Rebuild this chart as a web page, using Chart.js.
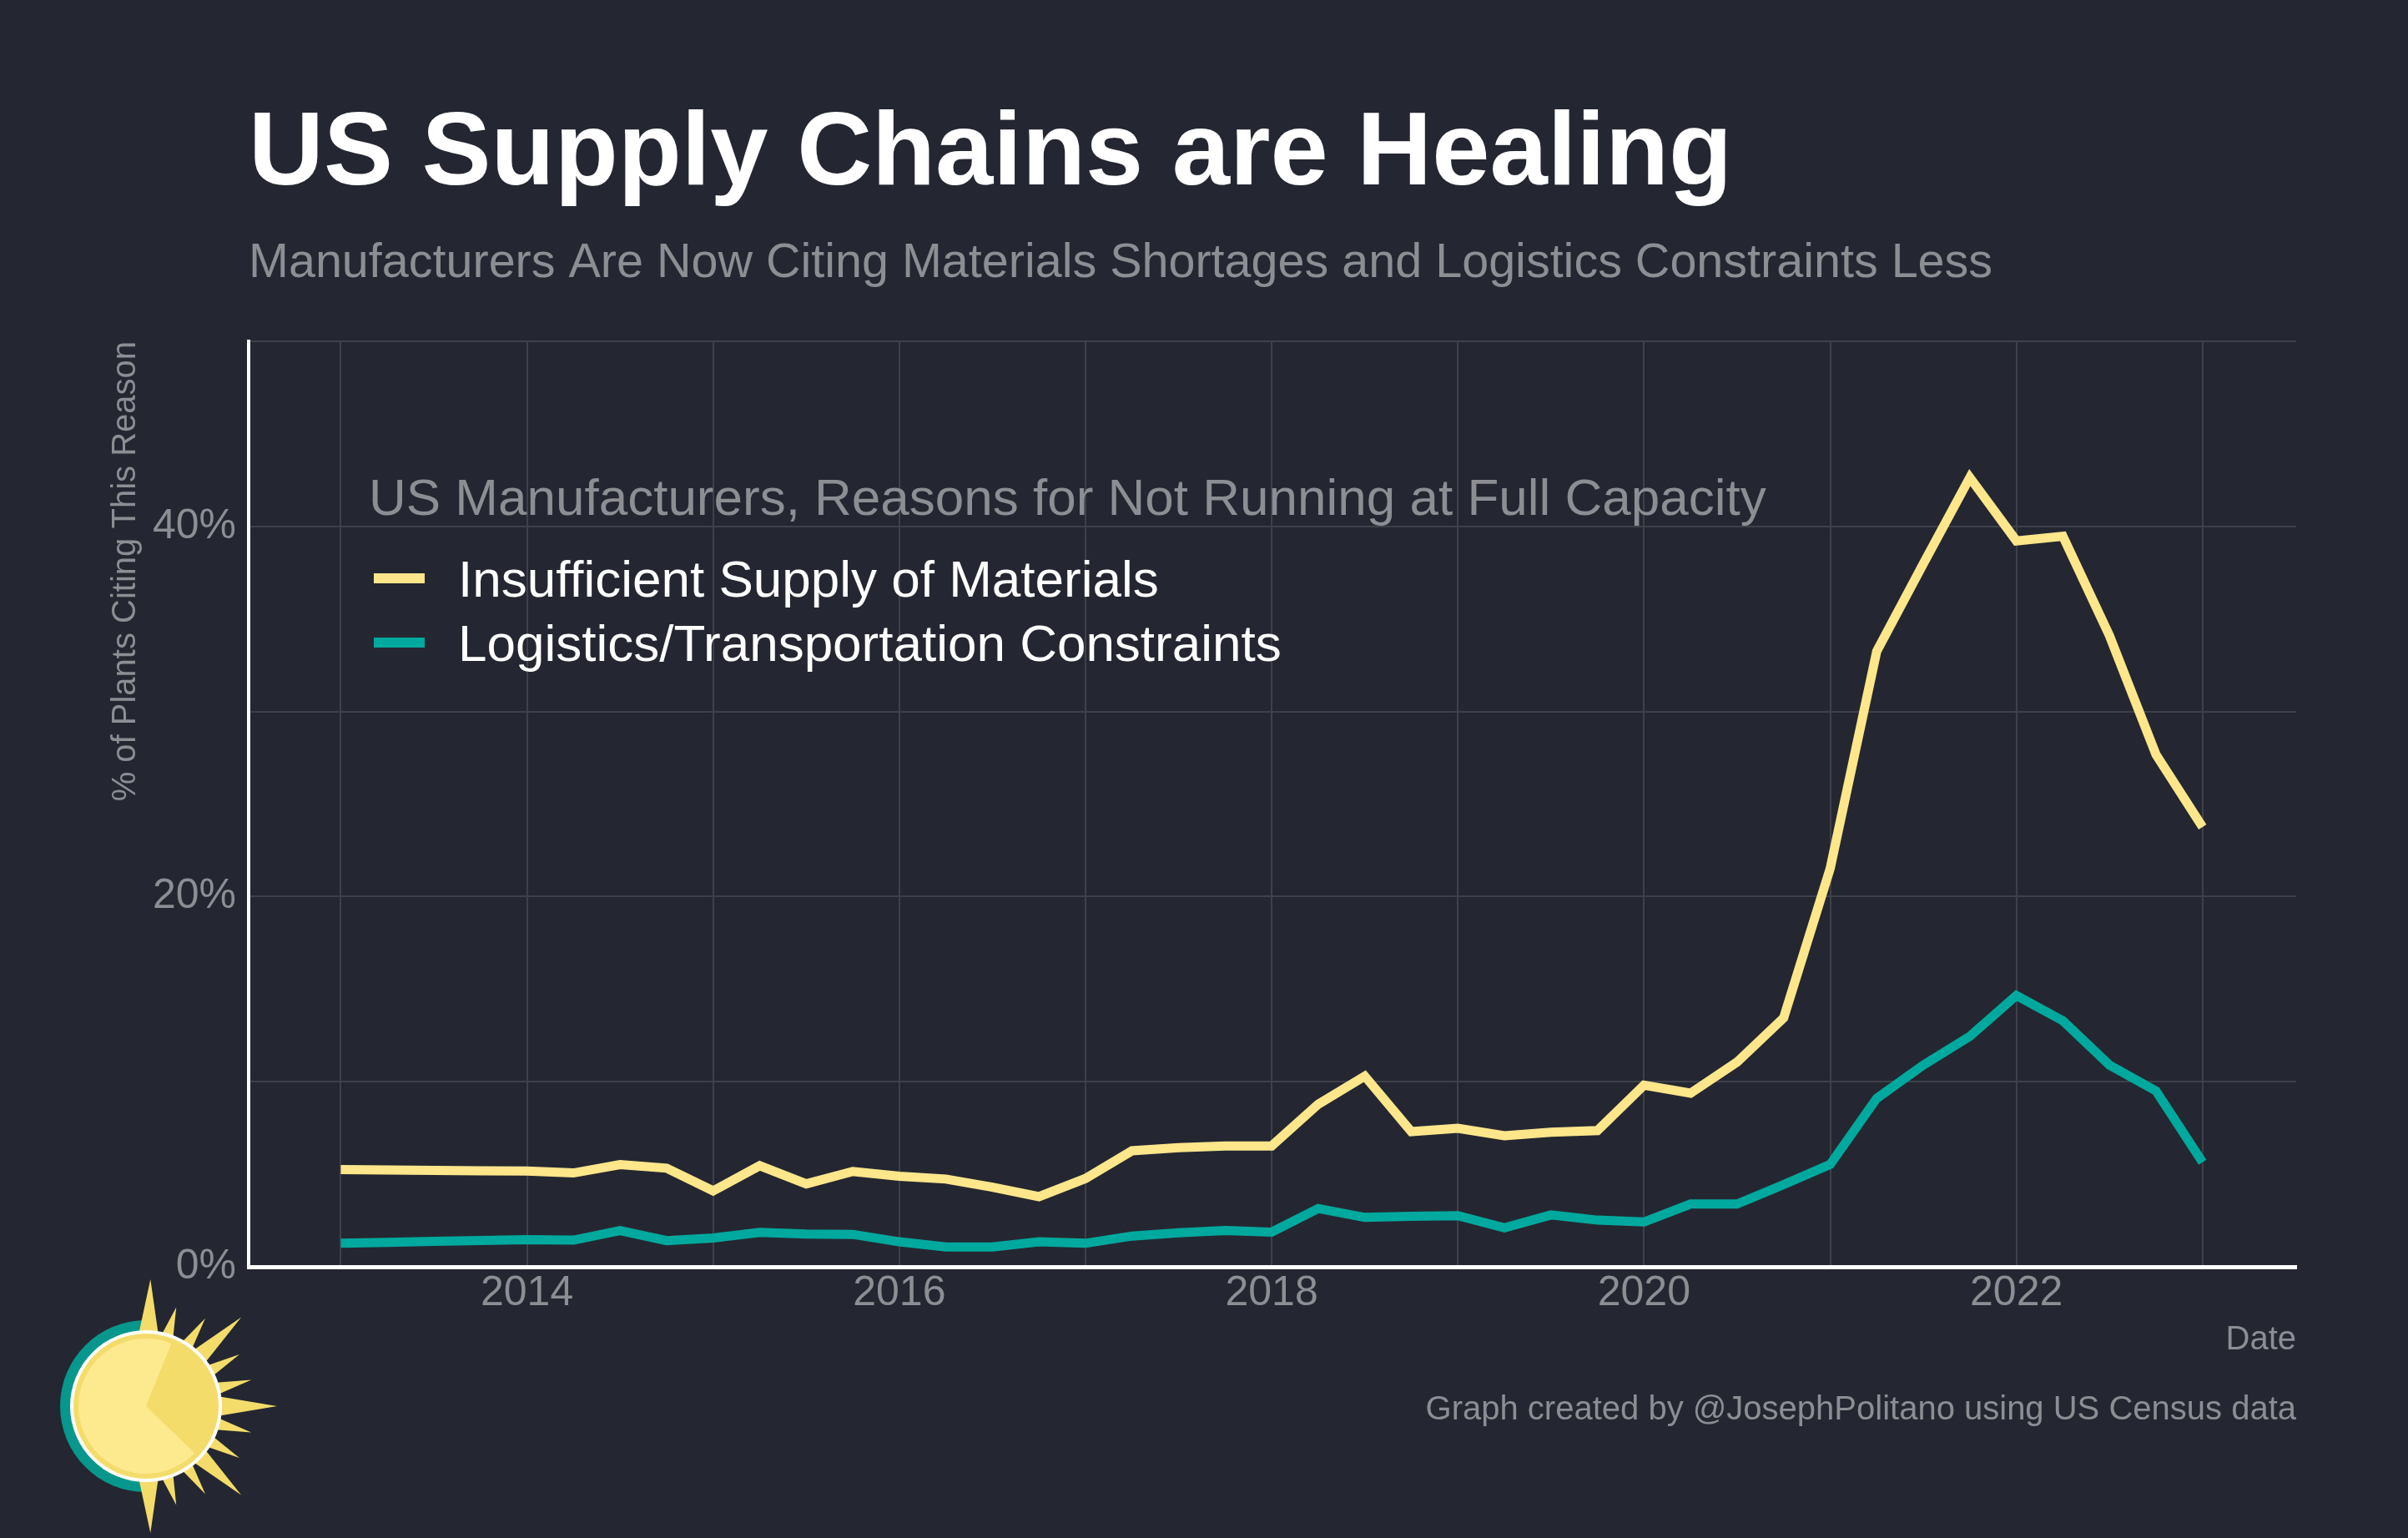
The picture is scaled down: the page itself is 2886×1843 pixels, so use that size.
<!DOCTYPE html>
<html>
<head>
<meta charset="utf-8">
<title>US Supply Chains are Healing</title>
<script src="https://cdn.jsdelivr.net/npm/chart.js@4.4.0/dist/chart.umd.min.js"></script>
<style>
    html, body { margin: 0; padding: 0; background: #242731; }
    #wrap { width: 2886px; height: 1843px; }
</style>
</head>
<body>
<div id="wrap"><canvas id="supplyChart" width="2886" height="1843"></canvas></div>
<script>
// quarterly observations, 2013 Q1 .. 2023 Q1 (decimal years)
var quarters = [
    2013.00, 2013.25, 2013.50, 2013.75,
    2014.00, 2014.25, 2014.50, 2014.75,
    2015.00, 2015.25, 2015.50, 2015.75,
    2016.00, 2016.25, 2016.50, 2016.75,
    2017.00, 2017.25, 2017.50, 2017.75,
    2018.00, 2018.25, 2018.50, 2018.75,
    2019.00, 2019.25, 2019.50, 2019.75,
    2020.00, 2020.25, 2020.50, 2020.75,
    2021.00, 2021.25, 2021.50, 2021.75,
    2022.00, 2022.25, 2022.50, 2022.75,
    2023.00
];

// % of plants citing "Insufficient Supply of Materials"
var materials = [
    5.25, 5.23, 5.21, 5.19,
    5.17, 5.07, 5.52, 5.33,
    4.10, 5.46, 4.48, 5.15,
    4.89, 4.74, 4.30, 3.79,
    4.77, 6.27, 6.44, 6.53,
    6.53, 8.78, 10.3, 7.30,
    7.48, 7.08, 7.27, 7.36,
    9.81, 9.38, 11.06, 13.45,
    21.52, 33.26, 37.98, 42.64,
    39.22, 39.47, 34.10, 27.67,
    23.76
];

// % of plants citing "Logistics/Transportation Constraints"
var logistics = [
    1.27, 1.32, 1.37, 1.42,
    1.47, 1.44, 1.96, 1.41,
    1.56, 1.86, 1.77, 1.75,
    1.35, 1.07, 1.07, 1.35,
    1.27, 1.66, 1.84, 1.96,
    1.87, 3.15, 2.67, 2.73,
    2.76, 2.11, 2.80, 2.52,
    2.42, 3.39, 3.39, 4.44,
    5.53, 9.10, 10.90, 12.45,
    14.66, 13.29, 10.90, 9.50,
    5.65
];

var seriesNames = ['Insufficient Supply of Materials', 'Logistics/Transportation Constraints'];
var seriesColors = ['#fee68b', '#00a99d'];

var yearTicks = [2013, 2014, 2015, 2016, 2017, 2018, 2019, 2020, 2021, 2022, 2023];
var yearLabels = ['2014', '2016', '2018', '2020', '2022'];
var pctTicks = [0, 10, 20, 30, 40, 50];
var pctLabels = { 0: '0%', 20: '20%', 40: '40%' };

var titleText = 'US Supply Chains are Healing';
var subtitleText = 'Manufacturers Are Now Citing Materials Shortages and Logistics Constraints Less';
var legendTitle = 'US Manufacturers, Reasons for Not Running at Full Capacity';
var captionText = 'Graph created by @JosephPolitano using US Census data';

var FONT = '"Liberation Sans", Arial, Helvetica, sans-serif';
var GREY = '#8c8e94';
var GRID = '#3e414a';

function points(values) {
    return quarters.map(function (q, i) { return { x: q, y: values[i] }; });
}

// background, headings, legend block, caption and the sun logo
var decorPlugin = {
    id: 'decor',
    beforeDraw: function (chart) {
        var ctx = chart.ctx;
        ctx.save();
        ctx.fillStyle = '#242731';
        ctx.fillRect(0, 0, chart.width, chart.height);
        ctx.restore();
    },
    afterDraw: function (chart) {
        var ctx = chart.ctx;
        var area = chart.chartArea;
        ctx.save();
        ctx.textBaseline = 'alphabetic';
        ctx.textAlign = 'left';

        ctx.fillStyle = '#ffffff';
        ctx.font = 'bold 124.5px ' + FONT;
        ctx.fillText(titleText, area.left, 221);

        ctx.fillStyle = GREY;
        ctx.font = '57.5px ' + FONT;
        ctx.fillText(subtitleText, area.left, 332);

        // legend
        ctx.font = '62px ' + FONT;
        ctx.fillText(legendTitle, 442, 617);
        chart.data.datasets.forEach(function (ds, i) {
            var base = 715 + i * 77;
            ctx.strokeStyle = ds.borderColor;
            ctx.lineWidth = 12;
            ctx.beginPath();
            ctx.moveTo(448, base - 22);
            ctx.lineTo(509, base - 22);
            ctx.stroke();
            ctx.fillStyle = '#ffffff';
            ctx.font = '62px ' + FONT;
            ctx.fillText(ds.label, 549, base);
        });

        ctx.fillStyle = GREY;
        ctx.font = '40px ' + FONT;
        ctx.textAlign = 'right';
        ctx.fillText(captionText, area.right, 1701);

        drawSun(ctx, 175, 1685);
        ctx.restore();
    }
};

function drawSun(ctx, cx, cy) {
    var d = Math.PI / 180;
    ctx.fillStyle = '#07978c';
    ctx.beginPath();
    ctx.arc(cx, cy, 103, 90 * d, 270 * d);
    ctx.closePath();
    ctx.fill();

    // rays: angle, length, half width (deg)
    var rays = [[-88, 152, 8], [-73, 124, 5], [-56, 127, 5], [-43, 156, 7], [-29, 128, 5],
                [-14, 130, 5], [0, 157, 8], [14, 130, 5], [29, 128, 5], [43, 156, 7],
                [56, 127, 5], [73, 124, 5], [88, 152, 8]];
    ctx.fillStyle = '#f4dc6b';
    rays.forEach(function (r) {
        var a = r[0] * d, w = r[2] * d;
        ctx.beginPath();
        ctx.moveTo(cx + 86 * Math.cos(a - w), cy + 86 * Math.sin(a - w));
        ctx.lineTo(cx + r[1] * Math.cos(a), cy + r[1] * Math.sin(a));
        ctx.lineTo(cx + 86 * Math.cos(a + w), cy + 86 * Math.sin(a + w));
        ctx.closePath();
        ctx.fill();
    });

    ctx.fillStyle = '#ffffff';
    ctx.beginPath();
    ctx.arc(cx, cy, 91, 0, 2 * Math.PI);
    ctx.fill();
    ctx.fillStyle = '#f4dc6b';
    ctx.beginPath();
    ctx.arc(cx, cy, 87, 0, 2 * Math.PI);
    ctx.fill();
    ctx.fillStyle = '#fde98e';
    ctx.beginPath();
    ctx.moveTo(cx, cy);
    ctx.arc(cx, cy, 81, 44 * d, 292 * d);
    ctx.closePath();
    ctx.fill();
}

var ctx = document.getElementById('supplyChart').getContext('2d');

var chart = new Chart(ctx, {
    type: 'line',
    data: {
        datasets: [{
            label: seriesNames[0],
            data: points(materials),
            borderColor: seriesColors[0],
            borderWidth: 11,
            pointRadius: 0,
            tension: 0,
            borderJoinStyle: 'miter'
        }, {
            label: seriesNames[1],
            data: points(logistics),
            borderColor: seriesColors[1],
            borderWidth: 11,
            pointRadius: 0,
            tension: 0,
            borderJoinStyle: 'miter'
        }]
    },
    options: {
        responsive: false,
        animation: false,
        devicePixelRatio: 1,
        layout: {
            padding: { left: 108, top: 409, right: 134, bottom: 213 }
        },
        plugins: {
            legend: { display: false },
            tooltip: { enabled: false }
        },
        scales: {
            x: {
                type: 'linear',
                min: 2012.505,
                max: 2023.503,
                afterBuildTicks: function (scale) {
                    scale.ticks = yearTicks.map(function (v) { return { value: v }; });
                },
                afterFit: function (scale) {
                    scale.height = 112;
                },
                ticks: {
                    autoSkip: false,
                    maxRotation: 0,
                    padding: 2,
                    color: GREY,
                    font: { family: FONT, size: 50 },
                    callback: function (value) {
                        return yearLabels.indexOf(String(value)) >= 0 ? String(value) : '';
                    }
                },
                grid: { color: GRID, lineWidth: 2, drawTicks: false },
                border: { display: true, color: '#ffffff', width: 5 },
                title: {
                    display: true,
                    text: 'Date',
                    align: 'end',
                    color: GREY,
                    padding: 0,
                    font: { family: FONT, size: 40 }
                }
            },
            y: {
                min: 0,
                max: 50,
                afterBuildTicks: function (scale) {
                    scale.ticks = pctTicks.map(function (v) { return { value: v }; });
                },
                afterFit: function (scale) {
                    scale.width = 190;
                },
                ticks: {
                    padding: 15,
                    color: GREY,
                    font: { family: FONT, size: 50 },
                    callback: function (value) {
                        return pctLabels[value] || '';
                    }
                },
                grid: {
                    color: function (c) { return c.tick && c.tick.value === 0 ? 'rgba(0,0,0,0)' : GRID; },
                    lineWidth: 2,
                    drawTicks: false
                },
                border: { display: true, color: '#ffffff', width: 4 },
                title: {
                    display: true,
                    text: '% of Plants Citing This Reason',
                    align: 'end',
                    color: GREY,
                    padding: { top: 19, bottom: 0 },
                    font: { family: FONT, size: 40 }
                }
            }
        }
    },
    plugins: [decorPlugin]
});
</script>
</body>
</html>
